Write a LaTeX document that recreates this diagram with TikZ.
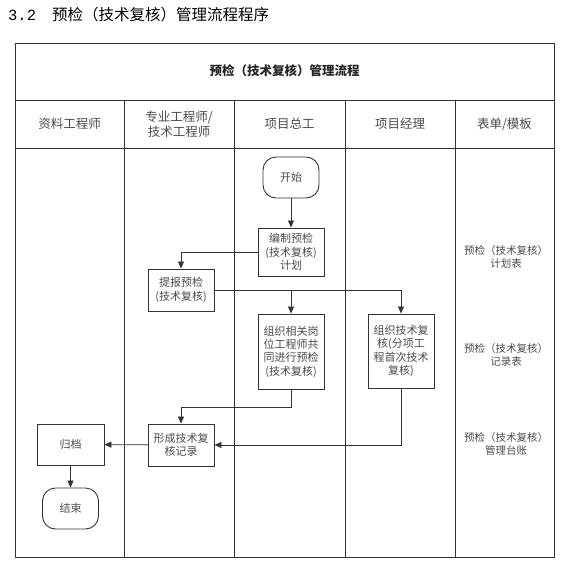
\documentclass[tikz,border=0pt]{standalone}
\usepackage{fontspec}
\setmainfont{Noto Sans CJK SC}
\setmonofont{Liberation Mono}
\usetikzlibrary{arrows.meta,positioning}
\definecolor{linegray}{HTML}{333333}
\definecolor{textgray}{HTML}{4A4A4A}
\tikzset{
  taskbox/.style={draw=linegray, line width=0.9pt, minimum width=66pt, align=center,
    font=\fontsize{11}{13.3}\selectfont, text=textgray, inner sep=1pt},
  termbox/.style={draw=linegray, line width=0.9pt, rounded corners=13pt, minimum width=56pt,
    minimum height=41pt, font=\fontsize{11}{13}\selectfont, text=textgray},
  flow/.style={draw=linegray, line width=0.8pt, -{Triangle[length=7pt,width=6pt]}},
  headtext/.style={font=\fontsize{12.5}{14.5}\selectfont, text=textgray, align=center},
  formtext/.style={font=\fontsize{10.5}{13}\selectfont, text=textgray, align=center},
  frame/.style={draw=linegray, line width=1pt}
}
\begin{document}
\begin{tikzpicture}[x=1pt,y=-1pt]
\useasboundingbox (0,0) rectangle (570,565);
% page heading
\node[anchor=west, font=\fontsize{15.5}{18}\selectfont, inner sep=0pt] (heading) at (8,15)
  {\texttt{3.2}\hspace{16pt}预检（技术复核）管理流程程序};

% table frame and lanes
\draw[frame] (15,43) rectangle (554,557);
\draw[frame] (15,100) -- (554,100);
\draw[frame] (15,148) -- (554,148);
\foreach \x in {124,234,345,455}
  \draw[frame] (\x,100) -- (\x,557);

% table title and lane headers
\node[headtext, font=\bfseries\fontsize{12.5}{14.5}\selectfont, text=black!85] (tabletitle) at (284.5,71) {预检（技术复核）管理流程};
\node[headtext] (laneA) at (69.5,124) {资料工程师};
\node[headtext] (laneB) at (179,124) {专业工程师/\\技术工程师};
\node[headtext] (laneC) at (289.5,124) {项目总工};
\node[headtext] (laneD) at (400,124) {项目经理};
\node[headtext] (laneE) at (504.5,124) {表单/模板};

% flow steps
\node[termbox] (start) at (291,177.5) {开始};
\node[taskbox, minimum height=48pt] (plan) at (291,252) {编制预检\\(技术复核)\\计划};
\node[taskbox, minimum height=42pt] (report) at (181,290) {提报预检\\(技术复核)};
\node[taskbox, minimum height=75pt] (review) at (291,351.5) {组织相关岗\\位工程师共\\同进行预检\\(技术复核)};
\node[taskbox, minimum height=74pt] (recheck) at (401,351) {组织技术复\\核(分项工\\程首次技术\\复核)};
\node[taskbox, minimum height=42pt] (record) at (181,445) {形成技术复\\核记录};
\node[taskbox, minimum height=41pt, minimum width=67pt] (archive) at (70.5,444.5) {归档};
\node[termbox] (finish) at (70.5,508.5) {结束};

% forms
\node[formtext] (formA) at (506,256.5) {预检（技术复核）\\计划表};
\node[formtext] (formB) at (506,355) {预检（技术复核）\\记录表};
\node[formtext] (formC) at (506,444) {预检（技术复核）\\管理台账};

% connectors
\coordinate (bendA) at (291,407);
\draw[flow] (start) -- (plan);
\draw[flow] (plan.west) -| (report.north);
\draw[flow] (report.east) -| (review.north);
\draw[flow] (report.east) -| (recheck.north);
\draw[flow] (review.south) -- (bendA) -| (record.north);
\draw[flow] (recheck.south) |- (record.east);
\draw[flow] (record) -- (archive);
\draw[flow] (archive) -- (finish);
\end{tikzpicture}
\end{document}
